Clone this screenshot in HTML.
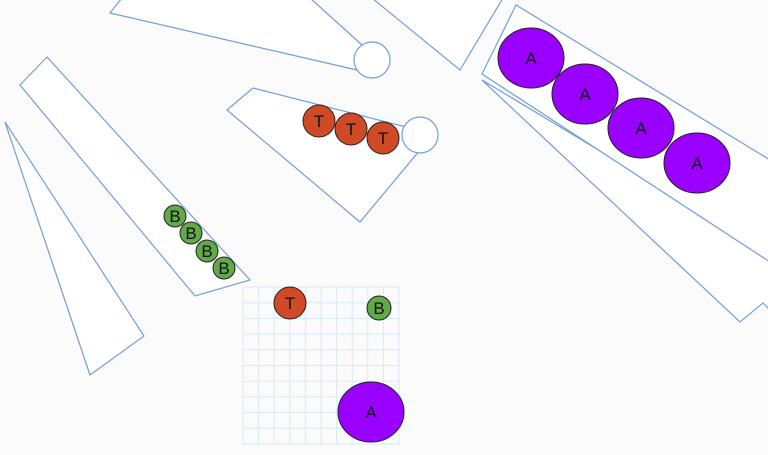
<!DOCTYPE html>
<html><head><style>html,body{margin:0;padding:0;background:#fbfbfb;}svg{display:block}</style></head>
<body>
<svg width="768" height="455" viewBox="0 0 768 455" xmlns="http://www.w3.org/2000/svg" font-family="Liberation Sans, sans-serif">
<rect width="768" height="455" fill="#fbfbfb"/>
<g stroke="#d6e9f8" stroke-width="1">
<rect x="243" y="287" width="156" height="157" fill="none"/>
<path d="M258.6 287V444M274.2 287V444M289.8 287V444M305.4 287V444M321 287V444M336.6 287V444M352.2 287V444M367.8 287V444M383.4 287V444M243 302.7H399M243 318.4H399M243 334.1H399M243 349.8H399M243 365.5H399M243 381.2H399M243 396.9H399M243 412.6H399M243 428.3H399"/>
</g>
<g fill="#fff" stroke="#6f9fd8" stroke-width="1.2">
<polygon points="122,-2 110,13 357,70 362,45 310,-2"/>
<circle cx="372" cy="60" r="18"/>
<polygon points="372,-2 460,70 503,-2"/>
<polygon points="5,122 90,375 144,336"/>
<polygon points="47,57 20,85 195,296 250,280"/>
<polygon points="253,88 227,110 360,222 420,150 410,128"/>
<circle cx="420" cy="135" r="18"/>
<polygon points="482,80 740,322 763,303 770,310 770,253"/>
<polygon points="516,5 482,74 770,262 770,160"/>
</g>
<g stroke="#222" stroke-width="1">
<circle cx="175" cy="216" r="11" fill="#62a94a"/>
<circle cx="191" cy="233" r="11" fill="#62a94a"/>
<circle cx="207" cy="251" r="11" fill="#62a94a"/>
<circle cx="224" cy="268" r="11" fill="#62a94a"/>
<circle cx="319" cy="121" r="16" fill="#cf4a25"/>
<circle cx="351" cy="129" r="16" fill="#cf4a25"/>
<circle cx="383" cy="138" r="16" fill="#cf4a25"/>
<ellipse cx="531" cy="58" rx="33" ry="30" fill="#9900ff"/>
<ellipse cx="585" cy="94" rx="33" ry="30" fill="#9900ff"/>
<ellipse cx="641" cy="128" rx="33" ry="30" fill="#9900ff"/>
<ellipse cx="697" cy="163" rx="33" ry="30" fill="#9900ff"/>
<circle cx="290" cy="303" r="16" fill="#cf4a25"/>
<circle cx="379" cy="308" r="12" fill="#62a94a"/>
<ellipse cx="371" cy="412" rx="33" ry="30" fill="#9900ff"/>
</g>
<g fill="#111" font-size="17" text-anchor="middle">
<text x="175" y="222">B</text><text x="191" y="239">B</text><text x="207" y="257">B</text><text x="224" y="274">B</text>
<text x="319" y="127">T</text><text x="351" y="135">T</text><text x="383" y="144">T</text>
<text x="531" y="64">A</text><text x="585" y="100">A</text><text x="641" y="134">A</text><text x="697" y="169">A</text>
<text x="290" y="309">T</text><text x="379" y="314">B</text><text x="371" y="418">A</text>
</g>
</svg>
</body></html>
